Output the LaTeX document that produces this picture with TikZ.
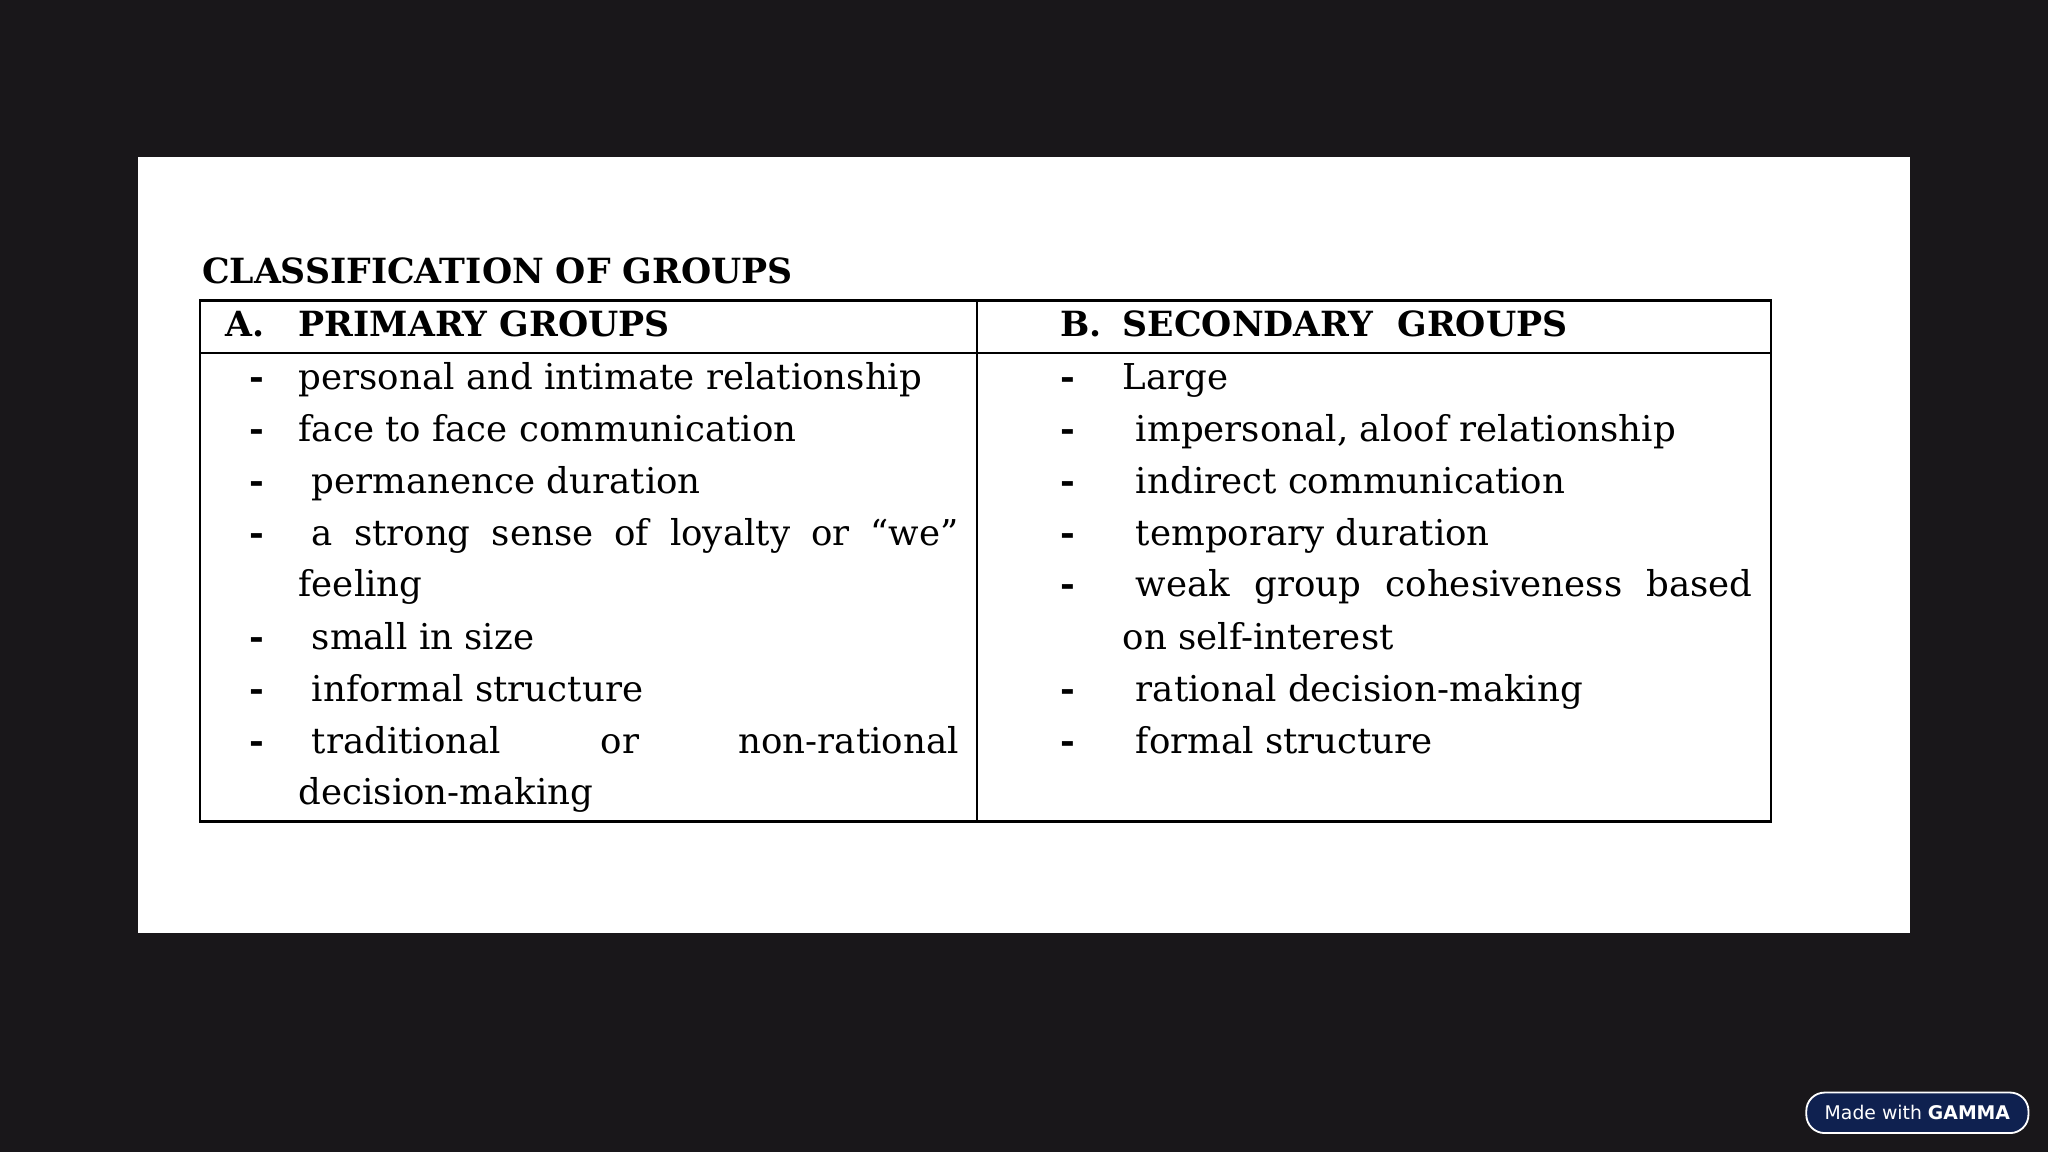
\documentclass[tikz,border=0pt]{standalone}
\usepackage{fontspec}
\setmainfont{DejaVu Serif}
\newfontfamily\badgefont{DejaVu Sans}
\definecolor{bg}{HTML}{19171A}
\definecolor{badge}{HTML}{0F2150}
\tikzset{txt/.style={anchor=base west,inner sep=0pt,font=\fontsize{7.75}{9}\selectfont},
 hd/.style={txt,font=\fontsize{7.55}{9}\selectfont\bfseries},
 grid/.style={line width=0.5pt,black}}
\begin{document}
\begin{tikzpicture}[x=0.01cm,y=-0.01cm]
\fill[bg] (0,0) rectangle (1568,882);
\useasboundingbox (0,0) rectangle (1568,882);
\fill[white] (106,120) rectangle (1462,714);
\node[hd] (title) at (154,217) {CLASSIFICATION OF GROUPS};
\draw[grid] (153,230) rectangle (1356,629);
\draw[grid] (153,270) -- (1356,270);
\draw[grid] (748,230) -- (748,629);
\node[hd] (ha) at (172,258) {A.};
\node[hd] (hat) at (228,258) {PRIMARY GROUPS};
\node[hd] (hb) at (811,258) {B.};
\node[hd] (hbt) at (859,258) {SECONDARY\ \ GROUPS};
% left column
\foreach \y in {298,338,378,418,497,537,577} \node[txt,font=\fontsize{7.75}{9}\selectfont\bfseries] at (190,\y) {-};
\node[txt] (l1) at (228,298) {personal and intimate relationship};
\node[txt] (l2) at (228,338) {face to face communication};
\node[txt] (l3) at (238,378) {permanence duration};
\node[txt] (l4) at (238,418) {\makebox[4.95cm][s]{a strong sense of loyalty or “we”}};
\node[txt] (l4b) at (228,457) {feeling};
\node[txt] (l5) at (238,497) {small in size};
\node[txt] (l6) at (238,537) {informal structure};
\node[txt] (l7) at (238,577) {\makebox[4.95cm][s]{traditional \hfill or \hfill non-rational}};
\node[txt] (l7b) at (228,616) {decision-making};
% right column
\foreach \y in {298,338,378,418,457,537,577} \node[txt,font=\fontsize{7.75}{9}\selectfont\bfseries] at (811,\y) {-};
\node[txt] (r1) at (859,298) {Large};
\node[txt] (r2) at (869,338) {impersonal, aloof relationship};
\node[txt] (r3) at (869,378) {indirect communication};
\node[txt] (r4) at (869,418) {temporary duration};
\node[txt] (r5) at (869,457) {\makebox[4.72cm][s]{weak group cohesiveness based}};
\node[txt] (r5b) at (859,497) {on self-interest};
\node[txt] (r6) at (869,537) {rational decision-making};
\node[txt] (r7) at (869,577) {formal structure};
% badge
\node[draw=white,fill=badge,rounded corners=4pt,minimum width=1.7cm,minimum height=0.31cm,inner sep=0pt,text=white,font=\badgefont\fontsize{4.1}{5}\selectfont] (badge) at (1468,852) {Made with \textbf{GAMMA}};
\end{tikzpicture}
\end{document}
